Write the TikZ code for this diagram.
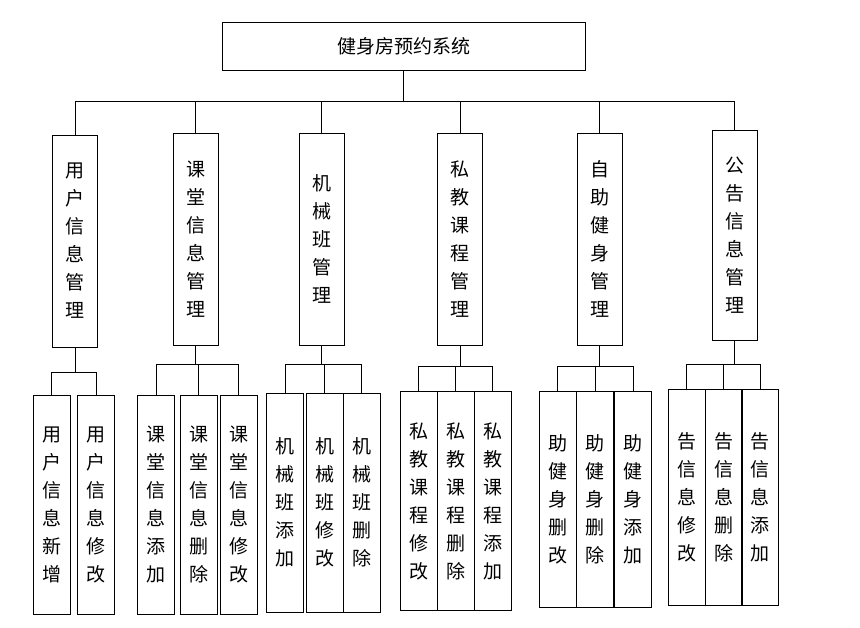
\documentclass[tikz,border=0pt]{standalone}
\usepackage{fontspec}
\setmainfont{Noto Sans CJK SC}
\begin{document}
\begin{tikzpicture}[x=1pt,y=-1pt,
  box/.style={draw,line width=0.8pt,inner sep=0pt,align=center,font=\fontsize{19}{28}\selectfont},
  lv2/.style={box,minimum width=45pt,minimum height=212pt},
  lv3/.style={box,minimum width=37pt,minimum height=219pt},
  ln/.style={line width=0.8pt}]
\useasboundingbox (0,0) rectangle (860,628);
\node[box,minimum width=363pt,minimum height=48pt] (top) at (403.5,46) {健身房预约系统};
\node[lv2] (a) at (75,241) {用\\户\\信\\息\\管\\理};
\node[lv2] (b) at (195.5,239) {课\\堂\\信\\息\\管\\理};
\node[lv2] (c) at (321.5,239) {机\\械\\班\\管\\理};
\node[lv2] (d) at (460,239) {私\\教\\课\\程\\管\\理};
\node[lv2] (e) at (599.5,239) {自\\助\\健\\身\\管\\理};
\node[lv2,minimum height=210pt] (f) at (734.5,235) {公\\告\\信\\息\\管\\理};
\coordinate (bar) at (0,101);
\draw[ln] (top.south) -- (top.south |- bar);
\draw[ln] (a.north |- bar) -- (f.north |- bar);
\foreach \n in {a,b,c,d,e,f} \draw[ln] (\n.north) -- (\n.north |- bar);
% level 3
\node[lv3] (a1) at (51.5,504.5) {用\\户\\信\\息\\新\\增};
\node[lv3] (a2) at (96,504.5) {用\\户\\信\\息\\修\\改};
\node[lv3] (b1) at (156,504.5) {课\\堂\\信\\息\\添\\加};
\node[lv3] (b2) at (198.5,504.5) {课\\堂\\信\\息\\删\\除};
\node[lv3] (b3) at (238.5,504.5) {课\\堂\\信\\息\\修\\改};
\node[lv3] (c1) at (285,502.5) {机\\械\\班\\添\\加};
\node[lv3] (c2) at (324.5,502.5) {机\\械\\班\\修\\改};
\node[lv3] (c3) at (361.5,502.5) {机\\械\\班\\删\\除};
\node[lv3] (d1) at (418.5,501) {私\\教\\课\\程\\修\\改};
\node[lv3] (d2) at (455.5,501) {私\\教\\课\\程\\删\\除};
\node[lv3] (d3) at (492.5,501) {私\\教\\课\\程\\添\\加};
\node[lv3,minimum height=216pt] (e1) at (557.5,499) {助\\健\\身\\删\\改};
\node[lv3,minimum height=216pt] (e2) at (595,499) {助\\健\\身\\删\\除};
\node[lv3,minimum height=216pt] (e3) at (633,499) {助\\健\\身\\添\\加};
\node[lv3,minimum height=216pt] (f1) at (686.5,497) {告\\信\\息\\修\\改};
\node[lv3,minimum height=216pt] (f2) at (723.5,497) {告\\信\\息\\删\\除};
\node[lv3,minimum height=216pt] (f3) at (760,497) {告\\信\\息\\添\\加};
% brackets
\draw[ln] (a.south) -- (a.south |- 0,372);
\draw[ln] (a1.north |- 0,372) -- (a2.north |- 0,372);
\foreach \n in {a1,a2} \draw[ln] (\n.north) -- (\n.north |- 0,372);
\foreach \p/\l/\r/\y in {b/b1/b3/364,c/c1/c3/364,d/d1/d3/366,e/e1/e3/366,f/f1/f3/364}{
  \draw[ln] (\p.south) -- (\p.south |- 0,\y);
  \draw[ln] (\l.north |- 0,\y) -- (\r.north |- 0,\y);
}
\foreach \n/\y in {b1/364,b2/364,b3/364,c1/364,c2/364,c3/364,d1/366,d2/366,d3/366,e1/366,e2/366,e3/366,f1/364,f2/364,f3/364}
  \draw[ln] (\n.north) -- (\n.north |- 0,\y);
\end{tikzpicture}
\end{document}
